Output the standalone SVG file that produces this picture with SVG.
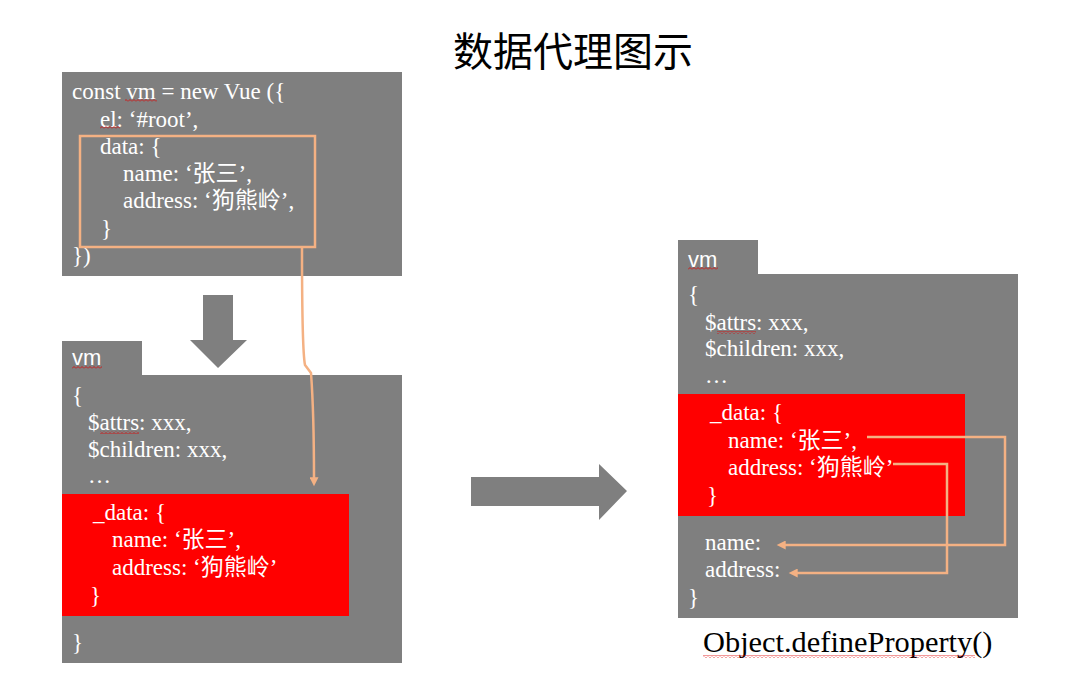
<svg xmlns="http://www.w3.org/2000/svg" width="1081" height="675" viewBox="0 0 1081 675">
<style>
.box{fill:#7F7F7F}
.red{fill:#FF0000}
.t{font-family:"Liberation Serif","Noto Sans CJK SC",serif;font-size:23px;fill:#FFFFFF}
.lbl{font-family:"Liberation Sans","Noto Sans CJK SC",sans-serif;font-size:22px;fill:#FFFFFF}
.title{font-family:"Noto Sans CJK SC",sans-serif;font-size:40px;fill:#000000}
.cap{font-family:"Liberation Serif",serif;font-size:30.4px;fill:#000000}
.conn{fill:none;stroke:#F4B183;stroke-width:2.5}
.sq{fill:url(#squig)}
</style>
<defs>
<pattern id="squig" width="4" height="3" patternUnits="userSpaceOnUse">
<path d="M0 2.5 L2 0.5 L4 2.5" fill="none" stroke="#E00000" stroke-width="0.8"/>
</pattern>
<marker id="ah" viewBox="0 0 10 10" refX="3" refY="5" markerWidth="10" markerHeight="9" markerUnits="userSpaceOnUse" orient="auto">
<path d="M0 0 L10 5 L0 10 z" fill="#F4B183"/>
</marker>
</defs>
<rect width="1081" height="675" fill="#FFFFFF"/>

<g id="title">
<text class="title" x="573" y="66" text-anchor="middle">数据代理图示</text>
</g>

<g id="vue-options">
<rect class="box" x="62" y="72" width="340" height="204"/>
<text class="t" x="72" y="99">const vm = new Vue ({</text>
<text class="t" x="100" y="127">el: ‘#root’,</text>
<text class="t" x="100" y="154">data: {</text>
<text class="t" x="123" y="181">name: ‘张三’,</text>
<text class="t" x="123" y="208">address: ‘狗熊岭’,</text>
<text class="t" x="101" y="236">}</text>
<text class="t" x="72" y="263">})</text>
<rect class="sq" x="125" y="99" width="32" height="3"/>
<rect class="sq" x="100" y="126" width="20" height="3"/>
<rect x="80" y="136" width="235" height="111" fill="none" stroke="#F4B183" stroke-width="2.5"/>
</g>

<g id="down-arrow">
<path class="box" d="M203 295 H233 V340 H247 L218 368 L190 340 H203 Z"/>
</g>

<g id="vm-left">
<rect class="box" x="62" y="341" width="80" height="40"/>
<rect class="box" x="62" y="375" width="340" height="288"/>
<text class="lbl" x="72" y="365">vm</text>
<rect class="sq" x="72" y="366" width="30" height="3"/>
<text class="t" x="72" y="403">{</text>
<text class="t" x="88" y="430">$attrs: xxx,</text>
<rect class="sq" x="100" y="431" width="39" height="3"/>
<text class="t" x="88" y="457">$children: xxx,</text>
<text class="t" x="88" y="483">…</text>
<rect class="red" x="62" y="494" width="287" height="122"/>
<text class="t" x="93" y="520">_data: {</text>
<text class="t" x="112" y="547">name: ‘张三’,</text>
<text class="t" x="112" y="575">address: ‘狗熊岭’</text>
<text class="t" x="90" y="603">}</text>
<text class="t" x="72" y="650">}</text>
</g>

<g id="right-arrow">
<path class="box" d="M471 477 H599 V464 L627 491 L599 520 V506 H471 Z"/>
</g>

<g id="vm-right">
<rect class="box" x="678" y="240" width="80" height="40"/>
<rect class="box" x="678" y="274" width="340" height="344"/>
<text class="lbl" x="688" y="267">vm</text>
<rect class="sq" x="688" y="267" width="30" height="3"/>
<text class="t" x="688" y="302">{</text>
<text class="t" x="705" y="330">$attrs: xxx,</text>
<rect class="sq" x="717" y="331" width="39" height="3"/>
<text class="t" x="705" y="356">$children: xxx,</text>
<text class="t" x="705" y="383">…</text>
<rect class="red" x="678" y="394" width="287" height="122"/>
<text class="t" x="710" y="420">_data: {</text>
<text class="t" x="728" y="448">name: ‘张三’,</text>
<text class="t" x="728" y="475">address: ‘狗熊岭’</text>
<text class="t" x="707" y="503">}</text>
<text class="t" x="705" y="550">name:</text>
<text class="t" x="705" y="577">address:</text>
<text class="t" x="688" y="605">}</text>
</g>

<g id="caption">
<text class="cap" x="703" y="652">Object.defineProperty()</text>
<rect class="sq" x="703" y="655" width="272" height="3"/>
</g>

<g id="connectors">
<path class="conn" marker-end="url(#ah)" d="M302 247 C302 300 303 355 305 365 L311 373 C313 400 314 440 314 480"/>
<path class="conn" marker-end="url(#ah)" d="M867 437 H1005 V545 H783"/>
<path class="conn" marker-end="url(#ah)" d="M893 464 H947 V573 H795"/>
</g>
</svg>
